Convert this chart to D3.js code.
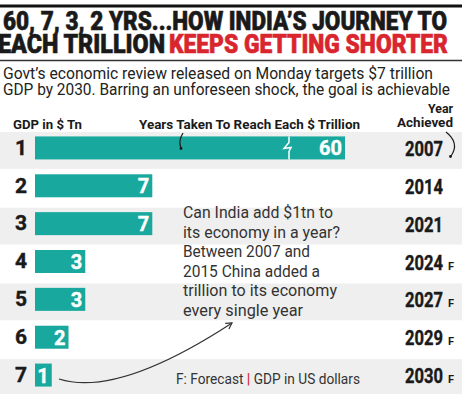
<!DOCTYPE html>
<html>
<head>
<meta charset="utf-8">
<script src="https://cdn.jsdelivr.net/npm/d3@7"></script>
<style>
  body { margin: 0; background: #fff; }
  svg { display: block; font-family: Roboto, "Open Sans", sans-serif; }
</style>
</head>
<body>
<div id="wrapper"></div>
<script>
// values
const gdpTrillions = [1, 2, 3, 4, 5, 6, 7]
const yearsTaken = [60, 7, 7, 3, 3, 2, 1]
const yearAchieved = ["2007", "2014", "2021", "2024", "2027", "2029", "2030"]
const isForecast = [false, false, false, true, true, true, true]

const titleLine1 = "60, 7, 3, 2 YRS...HOW INDIA\u2019S JOURNEY TO"
const titleLine2a = "EACH TRILLION"
const titleLine2b = "KEEPS GETTING SHORTER"
const subtitle = [
  "Govt\u2019s economic review released on Monday targets $7 trillion",
  "GDP by 2030. Barring an unforeseen shock, the goal is achievable",
]
const note = [
  "Can India add $1tn to",
  "its economy in a year?",
  "Between 2007 and",
  "2015 China added a",
  "trillion to its economy",
  "every single year",
]
const noteWidths = [150, 157, 127, 137, 154, 120]

const dataset = gdpTrillions.map((g, i) => ({
  gdp: g, years: yearsTaken[i], year: yearAchieved[i], f: isForecast[i]
}))

async function drawChart(){

  const dimensions = { width: 474, height: 394 }

  const teal = "#19a89e"
  const red = "#d9262e"
  const ink = "#1a1a1a"

  const wrapper = d3.select("#wrapper")
    .append("svg")
      .attr("width", dimensions.width)
      .attr("height", dimensions.height)

  // squeeze text to a given width (condensed newspaper type)
  const fit = (sel, w) => sel.attr("textLength", w).attr("lengthAdjust", "spacingAndGlyphs")

  // header
  wrapper.append("line")
      .attr("x1", 0).attr("x2", 462).attr("y1", 6).attr("y2", 6)
      .attr("stroke", "#111").attr("stroke-width", 3)

  wrapper.append("text")
      .attr("x", 3).attr("y", 30)
      .attr("fill", ink).attr("stroke", ink).attr("stroke-width", 0.6)
      .style("font-size", "26px").style("font-weight", 900)
      .text(titleLine1)
      .call(fit, 444)

  wrapper.append("text")
      .attr("x", -2).attr("y", 53)
      .attr("fill", ink).attr("stroke", ink).attr("stroke-width", 0.6)
      .style("font-size", "26px").style("font-weight", 900)
      .text(titleLine2a)
      .call(fit, 167)

  wrapper.append("text")
      .attr("x", 169).attr("y", 53)
      .attr("fill", red).attr("stroke", red).attr("stroke-width", 0.6)
      .style("font-size", "26px").style("font-weight", 900)
      .text(titleLine2b)
      .call(fit, 279)

  wrapper.append("line")
      .attr("x1", 0).attr("x2", 462).attr("y1", 60.5).attr("y2", 60.5)
      .attr("stroke", "#333").attr("stroke-width", 1.5)

  wrapper.selectAll(".sub")
    .data(subtitle)
    .enter().append("text")
      .attr("x", 3)
      .attr("y", (d, i) => 79 + i * 16)
      .attr("fill", "#222")
      .style("font-size", "16px")
      .text(d => d)
      .each(function(d, i){ d3.select(this).call(fit, i == 0 ? 430 : 447) })

  // column headings
  wrapper.append("text")
      .attr("x", 13).attr("y", 129)
      .attr("fill", ink)
      .style("font-size", "13px").style("font-weight", 700)
      .text("GDP in $ Tn")
      .call(fit, 69)

  wrapper.append("path")
      .attr("d", "M19,132 L28,132 L23.5,137 Z")
      .attr("fill", ink)

  wrapper.append("text")
      .attr("x", 139).attr("y", 129)
      .attr("fill", ink)
      .style("font-size", "13px").style("font-weight", 700)
      .text("Years Taken To Reach Each $ Trillion")
      .call(fit, 221)

  wrapper.append("text")
      .attr("x", 453).attr("y", 113)
      .attr("text-anchor", "end")
      .attr("fill", ink)
      .style("font-size", "13px").style("font-weight", 700)
      .text("Year")
      .call(fit, 25)

  wrapper.append("text")
      .attr("x", 453).attr("y", 127)
      .attr("text-anchor", "end")
      .attr("fill", ink)
      .style("font-size", "13px").style("font-weight", 700)
      .text("Achieved")
      .call(fit, 56)

  // scales
  const yScale = d3.scaleBand()
    .domain(gdpTrillions)
    .range([131, 396])

  // the 60-year bar runs off the scale and is drawn broken
  const xScale = d3.scaleLinear()
    .domain([0, 18.5])
    .range([35, 345])
    .clamp(true)

  const bounds = wrapper.append("g")

  // alternate grey bands
  bounds.selectAll(".band")
    .data(dataset.filter(d => d.gdp % 2 == 1))
    .enter().append("rect")
      .attr("x", 0)
      .attr("y", d => yScale(d.gdp) + 1)
      .attr("width", 462)
      .attr("height", yScale.bandwidth() - 1)
      .attr("fill", "#efefef")

  const barH = 23
  const barY = d => yScale(d.gdp) + yScale.bandwidth() / 2 - barH / 2 - 2

  bounds.selectAll(".bar")
    .data(dataset)
    .enter().append("rect")
      .attr("x", xScale(0))
      .attr("y", barY)
      .attr("width", d => xScale(d.years) - xScale(0))
      .attr("height", barH)
      .attr("fill", teal)

  // break mark on bars that exceed the scale
  bounds.selectAll(".brk")
    .data(dataset.filter(d => d.years > xScale.domain()[1]))
    .enter().append("path")
      .attr("d", d => {
        const x = xScale(d.years) - 56, y = barY(d)
        return `M${x},${y} L${x},${y + 6} L${x - 5},${y + 12} L${x + 2},${y + 11} L${x},${y + 15} L${x},${y + barH}`
      })
      .attr("fill", "none")
      .attr("stroke", "#fff")
      .attr("stroke-width", 1.5)

  bounds.selectAll(".val")
    .data(dataset)
    .enter().append("text")
      .attr("x", d => xScale(d.years) - 3)
      .attr("y", d => barY(d) + barH - 4)
      .attr("text-anchor", "end")
      .attr("fill", "#fff").attr("stroke", "#fff").attr("stroke-width", 0.4)
      .style("font-size", "20px").style("font-weight", 700)
      .text(d => d.years)

  // row labels (GDP in $ Tn)
  const yAxisGenerator = d3.axisLeft()
    .scale(yScale)
    .tickSize(0)
    .tickPadding(0)

  const yAxis = bounds.append("g")
      .call(yAxisGenerator)
      .attr("transform", "translate(27,-2)")
  yAxis.select(".domain").remove()
  yAxis.selectAll("text")
      .attr("fill", ink).attr("stroke", ink).attr("stroke-width", 0.4)
      .style("font-family", "Roboto, sans-serif")
      .style("font-size", "21px").style("font-weight", 700)

  // year achieved column
  bounds.selectAll(".yr")
    .data(dataset)
    .enter().append("text")
      .attr("x", 443)
      .attr("y", d => yScale(d.gdp) + yScale.bandwidth() / 2 + 6)
      .attr("text-anchor", "end")
      .attr("fill", ink).attr("stroke", ink).attr("stroke-width", 0.4)
      .style("font-size", "21px").style("font-weight", 700)
      .text(d => d.year)
      .call(fit, 38)

  bounds.selectAll(".fc")
    .data(dataset.filter(d => d.f))
    .enter().append("text")
      .attr("x", 448)
      .attr("y", d => yScale(d.gdp) + yScale.bandwidth() / 2 + 6)
      .attr("fill", ink)
      .style("font-size", "11px").style("font-weight", 700)
      .text("F")

  // pointers
  wrapper.append("path")
      .attr("d", "M183,133 Q178,141 181,148")
      .attr("fill", "none").attr("stroke", ink).attr("stroke-width", 1.2)
  wrapper.append("circle").attr("cx", 181).attr("cy", 148.5).attr("r", 1.4).attr("fill", ink)

  wrapper.append("path")
      .attr("d", "M446,132 Q460,143 451,156")
      .attr("fill", "none").attr("stroke", ink).attr("stroke-width", 1.2)
  wrapper.append("circle").attr("cx", 450.5).attr("cy", 156.5).attr("r", 1.4).attr("fill", ink)

  // annotation
  wrapper.selectAll(".note")
    .data(note)
    .enter().append("text")
      .attr("x", 183)
      .attr("y", (d, i) => 218 + i * 19.5)
      .attr("fill", "#333")
      .style("font-size", "16px")
      .text(d => d)
      .each(function(d, i){ d3.select(this).call(fit, noteWidths[i]) })

  wrapper.append("defs").append("marker")
      .attr("id", "head")
      .attr("viewBox", "0 0 10 10")
      .attr("refX", 8).attr("refY", 5)
      .attr("markerWidth", 7).attr("markerHeight", 7)
      .attr("orient", "auto")
    .append("path")
      .attr("d", "M1,1 L8,5 L1,9")
      .attr("fill", "none").attr("stroke", "#333").attr("stroke-width", 1.4)

  wrapper.append("path")
      .attr("d", "M59,379 C100,392 160,370 232,323")
      .attr("fill", "none").attr("stroke", "#333").attr("stroke-width", 1.2)
      .attr("marker-end", "url(#head)")

  // footer
  const foot = wrapper.append("text")
      .attr("x", 176).attr("y", 384)
      .attr("fill", "#333")
      .style("font-size", "15px")
  foot.append("tspan").text("F: Forecast ")
  foot.append("tspan").attr("fill", red).style("font-weight", 700).text("|")
  foot.append("tspan").text(" GDP in US dollars")
  foot.call(fit, 184)

}

drawChart()
</script>
</body>
</html>
